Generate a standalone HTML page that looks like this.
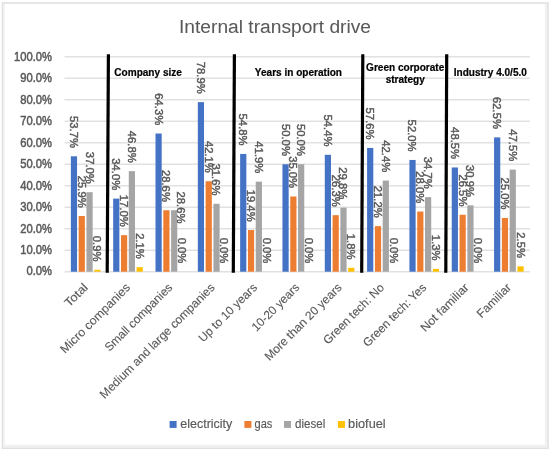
<!DOCTYPE html>
<html><head><meta charset="utf-8"><title>Internal transport drive</title>
<style>
html,body{margin:0;padding:0;background:#fff;width:550px;height:451px;overflow:hidden}
svg text{font-family:"Liberation Sans",Arial,sans-serif;stroke:#595959;stroke-width:0.45px;paint-order:stroke}
svg text.b{stroke:#000;stroke-width:0.2px}
svg text.x{stroke-width:0.12px}
svg text.t{stroke-width:0.05px}
svg text.l{stroke-width:0.15px}
</style></head><body>
<svg width="550" height="451" viewBox="0 0 550 451" style="position:absolute;left:0;top:0">
<rect x="3.5" y="3.5" width="543" height="443" fill="#fff"/>
<rect x="3.5" y="4" width="1.5" height="442" fill="#f3f3f3"/>
<rect x="544.8" y="4" width="2.2" height="442" fill="#f1f1f1"/>
<rect x="3.5" y="444.8" width="543.5" height="2.2" fill="#f1f1f1"/>
<rect x="2.5" y="3" width="545.5" height="445.2" fill="none" stroke="#e0e0e0" stroke-width="1.6"/>
<text class="t" x="275" y="33.3" text-anchor="middle" font-size="19.2" fill="#595959">Internal transport drive</text>
<line x1="64.5" x2="530.02" y1="271.7" y2="271.7" stroke="#e1e1e1" stroke-width="1.6"/>
<text transform="translate(52,271.2) scale(1,1.07)" y="4.01" text-anchor="end" font-size="11.2" fill="#595959">0.0%</text>
<line x1="64.5" x2="530.02" y1="250.21" y2="250.21" stroke="#e1e1e1" stroke-width="1.6"/>
<text transform="translate(52,249.71) scale(1,1.07)" y="4.01" text-anchor="end" font-size="11.2" fill="#595959">10.0%</text>
<line x1="64.5" x2="530.02" y1="228.72" y2="228.72" stroke="#e1e1e1" stroke-width="1.6"/>
<text transform="translate(52,228.22) scale(1,1.07)" y="4.01" text-anchor="end" font-size="11.2" fill="#595959">20.0%</text>
<line x1="64.5" x2="530.02" y1="207.23" y2="207.23" stroke="#e1e1e1" stroke-width="1.6"/>
<text transform="translate(52,206.73) scale(1,1.07)" y="4.01" text-anchor="end" font-size="11.2" fill="#595959">30.0%</text>
<line x1="64.5" x2="530.02" y1="185.74" y2="185.74" stroke="#e1e1e1" stroke-width="1.6"/>
<text transform="translate(52,185.24) scale(1,1.07)" y="4.01" text-anchor="end" font-size="11.2" fill="#595959">40.0%</text>
<line x1="64.5" x2="530.02" y1="164.25" y2="164.25" stroke="#e1e1e1" stroke-width="1.6"/>
<text transform="translate(52,163.75) scale(1,1.07)" y="4.01" text-anchor="end" font-size="11.2" fill="#595959">50.0%</text>
<line x1="64.5" x2="530.02" y1="142.76" y2="142.76" stroke="#e1e1e1" stroke-width="1.6"/>
<text transform="translate(52,142.26) scale(1,1.07)" y="4.01" text-anchor="end" font-size="11.2" fill="#595959">60.0%</text>
<line x1="64.5" x2="530.02" y1="121.27" y2="121.27" stroke="#e1e1e1" stroke-width="1.6"/>
<text transform="translate(52,120.77) scale(1,1.07)" y="4.01" text-anchor="end" font-size="11.2" fill="#595959">70.0%</text>
<line x1="64.5" x2="530.02" y1="99.78" y2="99.78" stroke="#e1e1e1" stroke-width="1.6"/>
<text transform="translate(52,99.28) scale(1,1.07)" y="4.01" text-anchor="end" font-size="11.2" fill="#595959">80.0%</text>
<line x1="64.5" x2="530.02" y1="78.29" y2="78.29" stroke="#e1e1e1" stroke-width="1.6"/>
<text transform="translate(52,77.79) scale(1,1.07)" y="4.01" text-anchor="end" font-size="11.2" fill="#595959">90.0%</text>
<line x1="64.5" x2="530.02" y1="56.8" y2="56.8" stroke="#e1e1e1" stroke-width="1.6"/>
<text transform="translate(52,56.3) scale(1,1.07)" y="4.01" text-anchor="end" font-size="11.2" fill="#595959">100.0%</text>
<rect x="70.86" y="156.3" width="6.2" height="115.4" fill="#4472C4"/>
<rect x="78.66" y="216.04" width="6.2" height="55.66" fill="#ED7D31"/>
<rect x="86.46" y="192.19" width="6.2" height="79.51" fill="#A5A5A5"/>
<rect x="94.26" y="269.77" width="6.2" height="1.93" fill="#FFC000"/>
<rect x="113.18" y="198.63" width="6.2" height="73.07" fill="#4472C4"/>
<rect x="120.98" y="235.17" width="6.2" height="36.53" fill="#ED7D31"/>
<rect x="128.78" y="171.13" width="6.2" height="100.57" fill="#A5A5A5"/>
<rect x="136.58" y="267.19" width="6.2" height="4.51" fill="#FFC000"/>
<rect x="155.5" y="133.52" width="6.2" height="138.18" fill="#4472C4"/>
<rect x="163.3" y="210.24" width="6.2" height="61.46" fill="#ED7D31"/>
<rect x="171.1" y="210.24" width="6.2" height="61.46" fill="#A5A5A5"/>
<rect x="197.82" y="102.14" width="6.2" height="169.56" fill="#4472C4"/>
<rect x="205.62" y="181.23" width="6.2" height="90.47" fill="#ED7D31"/>
<rect x="213.42" y="203.79" width="6.2" height="67.91" fill="#A5A5A5"/>
<rect x="240.14" y="153.93" width="6.2" height="117.77" fill="#4472C4"/>
<rect x="247.94" y="230.01" width="6.2" height="41.69" fill="#ED7D31"/>
<rect x="255.74" y="181.66" width="6.2" height="90.04" fill="#A5A5A5"/>
<rect x="282.46" y="164.25" width="6.2" height="107.45" fill="#4472C4"/>
<rect x="290.26" y="196.48" width="6.2" height="75.22" fill="#ED7D31"/>
<rect x="298.06" y="164.25" width="6.2" height="107.45" fill="#A5A5A5"/>
<rect x="324.78" y="154.79" width="6.2" height="116.91" fill="#4472C4"/>
<rect x="332.58" y="215.18" width="6.2" height="56.52" fill="#ED7D31"/>
<rect x="340.38" y="207.66" width="6.2" height="64.04" fill="#A5A5A5"/>
<rect x="348.18" y="267.83" width="6.2" height="3.87" fill="#FFC000"/>
<rect x="367.1" y="147.92" width="6.2" height="123.78" fill="#4472C4"/>
<rect x="374.9" y="226.14" width="6.2" height="45.56" fill="#ED7D31"/>
<rect x="382.7" y="180.58" width="6.2" height="91.12" fill="#A5A5A5"/>
<rect x="409.42" y="159.95" width="6.2" height="111.75" fill="#4472C4"/>
<rect x="417.22" y="211.53" width="6.2" height="60.17" fill="#ED7D31"/>
<rect x="425.02" y="197.13" width="6.2" height="74.57" fill="#A5A5A5"/>
<rect x="432.82" y="268.91" width="6.2" height="2.79" fill="#FFC000"/>
<rect x="451.74" y="167.47" width="6.2" height="104.23" fill="#4472C4"/>
<rect x="459.54" y="214.75" width="6.2" height="56.95" fill="#ED7D31"/>
<rect x="467.34" y="205.3" width="6.2" height="66.4" fill="#A5A5A5"/>
<rect x="494.06" y="137.39" width="6.2" height="134.31" fill="#4472C4"/>
<rect x="501.86" y="217.97" width="6.2" height="53.73" fill="#ED7D31"/>
<rect x="509.66" y="169.62" width="6.2" height="102.08" fill="#A5A5A5"/>
<rect x="517.46" y="266.33" width="6.2" height="5.37" fill="#FFC000"/>
<polygon points="106.8,54.3 110,54.3 108.8,272.8 105.6,272.8" fill="#000"/>
<polygon points="232.8,54.3 236,54.3 234.9,272.8 231.7,272.8" fill="#000"/>
<polygon points="361.2,54.3 364.4,54.3 363.3,272.8 360.1,272.8" fill="#000"/>
<polygon points="445.1,54.3 448.3,54.3 447.4,272.8 444.2,272.8" fill="#000"/>
<text transform="translate(69.91,148) rotate(90)" text-anchor="end" font-size="11.3" fill="#595959">53.7%</text>
<text transform="translate(77.71,207.74) rotate(90)" text-anchor="end" font-size="11.3" fill="#595959">25.9%</text>
<text transform="translate(85.51,183.89) rotate(90)" text-anchor="end" font-size="11.3" fill="#595959">37.0%</text>
<text transform="translate(93.31,261.47) rotate(90)" text-anchor="end" font-size="11.3" fill="#595959">0.9%</text>
<text transform="translate(112.23,190.33) rotate(90)" text-anchor="end" font-size="11.3" fill="#595959">34.0%</text>
<text transform="translate(120.03,226.87) rotate(90)" text-anchor="end" font-size="11.3" fill="#595959">17.0%</text>
<text transform="translate(127.83,162.83) rotate(90)" text-anchor="end" font-size="11.3" fill="#595959">46.8%</text>
<text transform="translate(135.63,258.89) rotate(90)" text-anchor="end" font-size="11.3" fill="#595959">2.1%</text>
<text transform="translate(154.55,125.22) rotate(90)" text-anchor="end" font-size="11.3" fill="#595959">64.3%</text>
<text transform="translate(162.35,201.94) rotate(90)" text-anchor="end" font-size="11.3" fill="#595959">28.6%</text>
<text transform="translate(177.15,223.54) rotate(90)" text-anchor="end" font-size="11.3" fill="#595959">28.6%</text>
<text transform="translate(177.95,263.4) rotate(90)" text-anchor="end" font-size="11.3" fill="#595959">0.0%</text>
<text transform="translate(196.87,93.84) rotate(90)" text-anchor="end" font-size="11.3" fill="#595959">78.9%</text>
<text transform="translate(204.67,172.93) rotate(90)" text-anchor="end" font-size="11.3" fill="#595959">42.1%</text>
<text transform="translate(212.47,195.49) rotate(90)" text-anchor="end" font-size="11.3" fill="#595959">31.6%</text>
<text transform="translate(220.27,263.4) rotate(90)" text-anchor="end" font-size="11.3" fill="#595959">0.0%</text>
<text transform="translate(239.19,145.63) rotate(90)" text-anchor="end" font-size="11.3" fill="#595959">54.8%</text>
<text transform="translate(246.99,221.71) rotate(90)" text-anchor="end" font-size="11.3" fill="#595959">19.4%</text>
<text transform="translate(254.79,173.36) rotate(90)" text-anchor="end" font-size="11.3" fill="#595959">41.9%</text>
<text transform="translate(262.59,263.4) rotate(90)" text-anchor="end" font-size="11.3" fill="#595959">0.0%</text>
<text transform="translate(281.51,155.95) rotate(90)" text-anchor="end" font-size="11.3" fill="#595959">50.0%</text>
<text transform="translate(289.31,188.18) rotate(90)" text-anchor="end" font-size="11.3" fill="#595959">35.0%</text>
<text transform="translate(297.11,155.95) rotate(90)" text-anchor="end" font-size="11.3" fill="#595959">50.0%</text>
<text transform="translate(304.91,263.4) rotate(90)" text-anchor="end" font-size="11.3" fill="#595959">0.0%</text>
<text transform="translate(323.83,146.49) rotate(90)" text-anchor="end" font-size="11.3" fill="#595959">54.4%</text>
<text transform="translate(331.63,206.88) rotate(90)" text-anchor="end" font-size="11.3" fill="#595959">26.3%</text>
<text transform="translate(339.43,199.36) rotate(90)" text-anchor="end" font-size="11.3" fill="#595959">29.8%</text>
<text transform="translate(347.23,259.53) rotate(90)" text-anchor="end" font-size="11.3" fill="#595959">1.8%</text>
<text transform="translate(366.15,139.62) rotate(90)" text-anchor="end" font-size="11.3" fill="#595959">57.6%</text>
<text transform="translate(373.95,217.84) rotate(90)" text-anchor="end" font-size="11.3" fill="#595959">21.2%</text>
<text transform="translate(381.75,172.28) rotate(90)" text-anchor="end" font-size="11.3" fill="#595959">42.4%</text>
<text transform="translate(389.55,263.4) rotate(90)" text-anchor="end" font-size="11.3" fill="#595959">0.0%</text>
<text transform="translate(408.47,151.65) rotate(90)" text-anchor="end" font-size="11.3" fill="#595959">52.0%</text>
<text transform="translate(416.27,203.23) rotate(90)" text-anchor="end" font-size="11.3" fill="#595959">28.0%</text>
<text transform="translate(424.07,188.83) rotate(90)" text-anchor="end" font-size="11.3" fill="#595959">34.7%</text>
<text transform="translate(431.87,260.61) rotate(90)" text-anchor="end" font-size="11.3" fill="#595959">1.3%</text>
<text transform="translate(450.79,159.17) rotate(90)" text-anchor="end" font-size="11.3" fill="#595959">48.5%</text>
<text transform="translate(458.59,206.45) rotate(90)" text-anchor="end" font-size="11.3" fill="#595959">26.5%</text>
<text transform="translate(466.39,197) rotate(90)" text-anchor="end" font-size="11.3" fill="#595959">30.9%</text>
<text transform="translate(474.19,263.4) rotate(90)" text-anchor="end" font-size="11.3" fill="#595959">0.0%</text>
<text transform="translate(493.11,129.09) rotate(90)" text-anchor="end" font-size="11.3" fill="#595959">62.5%</text>
<text transform="translate(500.91,209.67) rotate(90)" text-anchor="end" font-size="11.3" fill="#595959">25.0%</text>
<text transform="translate(508.71,161.32) rotate(90)" text-anchor="end" font-size="11.3" fill="#595959">47.5%</text>
<text transform="translate(516.51,258.03) rotate(90)" text-anchor="end" font-size="11.3" fill="#595959">2.5%</text>
<text class="x" transform="translate(82.36,282) rotate(-45)" text-anchor="end" font-size="12.0" fill="#595959" dominant-baseline="hanging" textLength="27.36" lengthAdjust="spacingAndGlyphs">Total</text>
<text class="x" transform="translate(124.68,282) rotate(-45)" text-anchor="end" font-size="12.0" fill="#595959" dominant-baseline="hanging" textLength="93.2" lengthAdjust="spacingAndGlyphs">Micro companies</text>
<text class="x" transform="translate(167,282) rotate(-45)" text-anchor="end" font-size="12.0" fill="#595959" dominant-baseline="hanging" textLength="90.18" lengthAdjust="spacingAndGlyphs">Small companies</text>
<text class="x" transform="translate(209.32,282) rotate(-45)" text-anchor="end" font-size="12.0" fill="#595959" dominant-baseline="hanging" textLength="156.92" lengthAdjust="spacingAndGlyphs">Medium and large companies</text>
<text class="x" transform="translate(251.64,282) rotate(-45)" text-anchor="end" font-size="12.0" fill="#595959" dominant-baseline="hanging" textLength="77.25" lengthAdjust="spacingAndGlyphs">Up to 10 years</text>
<text class="x" transform="translate(293.96,282) rotate(-45)" text-anchor="end" font-size="12.0" fill="#595959" dominant-baseline="hanging" textLength="61.88" lengthAdjust="spacingAndGlyphs">10-20 years</text>
<text class="x" transform="translate(336.28,282) rotate(-45)" text-anchor="end" font-size="12.0" fill="#595959" dominant-baseline="hanging" textLength="103.39" lengthAdjust="spacingAndGlyphs">More than 20 years</text>
<text class="x" transform="translate(378.6,282) rotate(-45)" text-anchor="end" font-size="12.0" fill="#595959" dominant-baseline="hanging" textLength="80.38" lengthAdjust="spacingAndGlyphs">Green tech: No</text>
<text class="x" transform="translate(420.92,282) rotate(-45)" text-anchor="end" font-size="12.0" fill="#595959" dominant-baseline="hanging" textLength="83.91" lengthAdjust="spacingAndGlyphs">Green tech: Yes</text>
<text class="x" transform="translate(463.24,282) rotate(-45)" text-anchor="end" font-size="12.0" fill="#595959" dominant-baseline="hanging" textLength="62.69" lengthAdjust="spacingAndGlyphs">Not familiar</text>
<text class="x" transform="translate(505.56,282) rotate(-45)" text-anchor="end" font-size="12.0" fill="#595959" dominant-baseline="hanging" textLength="42.67" lengthAdjust="spacingAndGlyphs">Familiar</text>
<text x="148.1" y="76.3" text-anchor="middle" font-size="10.05" font-weight="bold" fill="#000" class="b">Company size</text>
<text x="298.4" y="76.3" text-anchor="middle" font-size="10.05" font-weight="bold" fill="#000" class="b">Years in operation</text>
<text x="405.2" y="70.6" text-anchor="middle" font-size="10.05" font-weight="bold" fill="#000" class="b">Green corporate</text>
<text x="405.2" y="82.6" text-anchor="middle" font-size="10.05" font-weight="bold" fill="#000" class="b">strategy</text>
<text x="490.3" y="76.3" text-anchor="middle" font-size="10.05" font-weight="bold" fill="#000" class="b">Industry 4.0/5.0</text>
<rect x="169.6" y="421" width="7" height="6.9" fill="#4472C4"/>
<text class="l" x="180.3" y="428.1" font-size="12" fill="#595959" textLength="52.02" lengthAdjust="spacingAndGlyphs">electricity</text>
<rect x="244.4" y="421" width="7" height="6.9" fill="#ED7D31"/>
<text class="l" x="254.5" y="428.1" font-size="12" fill="#595959" textLength="17.86" lengthAdjust="spacingAndGlyphs">gas</text>
<rect x="284" y="421" width="7" height="6.9" fill="#A5A5A5"/>
<text class="l" x="295.1" y="428.1" font-size="12" fill="#595959" textLength="30.16" lengthAdjust="spacingAndGlyphs">diesel</text>
<rect x="337.9" y="421" width="7" height="6.9" fill="#FFC000"/>
<text class="l" x="348.1" y="428.1" font-size="12" fill="#595959" textLength="37.58" lengthAdjust="spacingAndGlyphs">biofuel</text>
</svg>
</body></html>
